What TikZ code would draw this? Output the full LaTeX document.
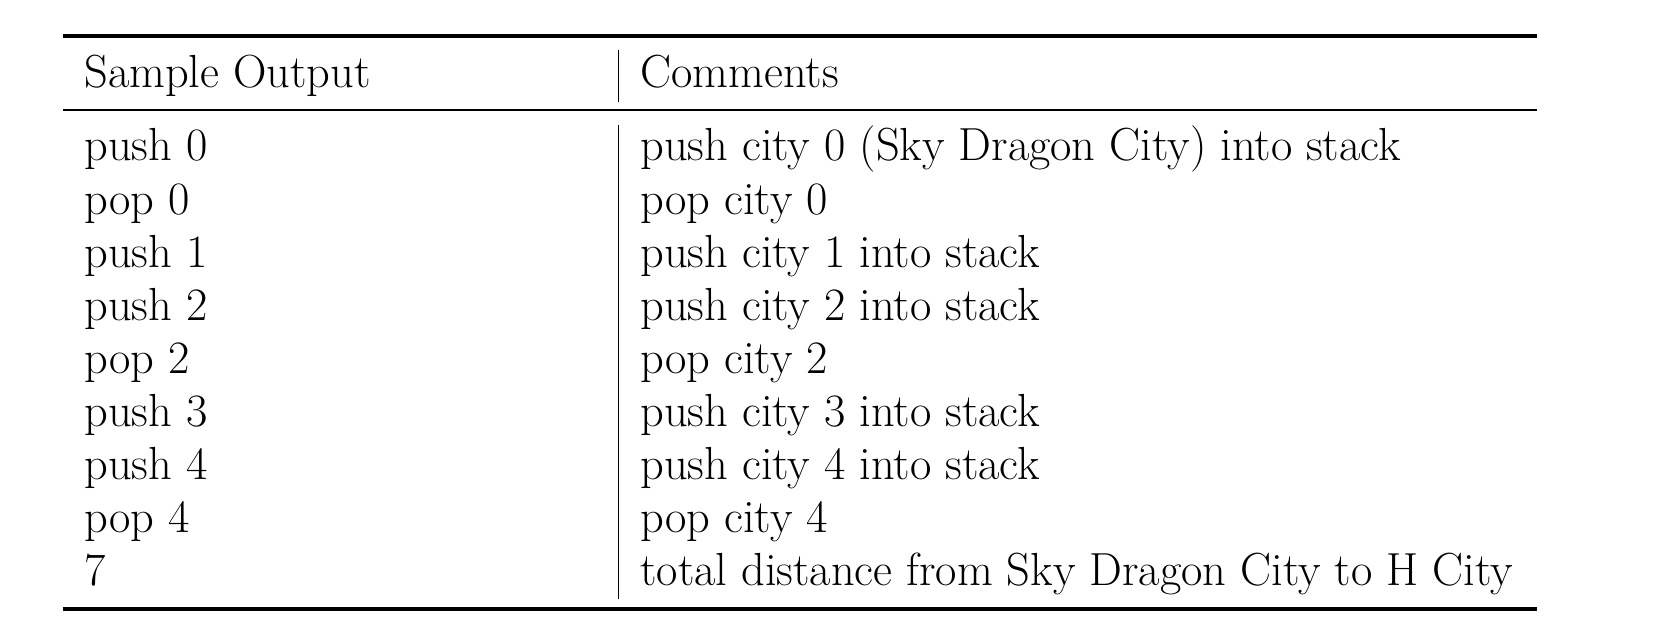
\documentclass[tikz,border=0pt]{standalone}
\begin{document}
\begin{tikzpicture}[x=0.5pt,y=-0.5pt,
  txt/.style={anchor=base west,inner sep=0pt,font=\fontsize{23.2}{28}\selectfont}]
\useasboundingbox (0,0) rectangle (1654,642);
\draw[line width=1.6pt] (63,36) -- (1537,36);
\draw[line width=1pt] (63,110) -- (1537,110);
\draw[line width=1.6pt] (63,609) -- (1537,609);
\draw[line width=0.5pt] (618,50) -- (618,102);
\draw[line width=0.5pt] (618,125) -- (618,599);
\node[txt] (h1) at (84,88) {Sample Output};
\node[txt] (h2) at (640,88) {Comments};
\foreach \a/\b [count=\i from 0] in {push 0/push city 0 (Sky Dragon City) into stack,
  pop 0/pop city 0, push 1/push city 1 into stack, push 2/push city 2 into stack,
  pop 2/pop city 2, push 3/push city 3 into stack, push 4/push city 4 into stack,
  pop 4/pop city 4, 7/total distance from Sky Dragon City to H City}{
  \node[txt] (l\i) at (84,161+53*\i) {\a};
  \node[txt] (r\i) at (640,161+53*\i) {\b};
}
\end{tikzpicture}
\end{document}
